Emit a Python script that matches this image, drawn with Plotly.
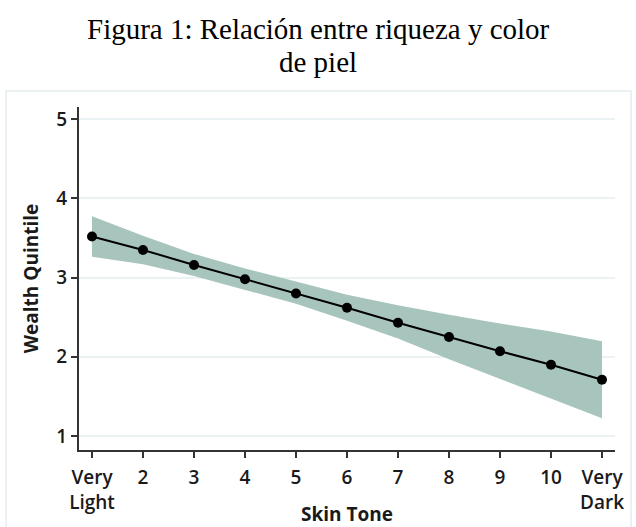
import plotly.graph_objects as go

# Data
skin_tone = [1, 2, 3, 4, 5, 6, 7, 8, 9, 10, 11]
tick_labels = ["Very<br>Light", "2", "3", "4", "5", "6", "7", "8", "9", "10", "Very<br>Dark"]
wealth = [3.52, 3.35, 3.16, 2.98, 2.80, 2.62, 2.43, 2.25, 2.07, 1.90, 1.71]
ci_upper = [3.775, 3.53, 3.30, 3.115, 2.95, 2.785, 2.65, 2.53, 2.42, 2.32, 2.195]
ci_lower = [3.265, 3.17, 3.02, 2.845, 2.67, 2.455, 2.23, 1.97, 1.72, 1.48, 1.225]
y_ticks = [1, 2, 3, 4, 5]

fig = go.Figure()

fig.add_trace(go.Scatter(
    x=skin_tone, y=ci_upper, mode="lines", line=dict(width=0),
    showlegend=False, hoverinfo="skip"))
fig.add_trace(go.Scatter(
    x=skin_tone, y=ci_lower, mode="lines", line=dict(width=0),
    fill="tonexty", fillcolor="rgb(168,197,189)",
    showlegend=False, hoverinfo="skip"))
fig.add_trace(go.Scatter(
    x=skin_tone, y=wealth, mode="lines+markers",
    line=dict(color="black", width=2),
    marker=dict(color="black", size=10),
    showlegend=False))

axis_font = dict(family="Open Sans", size=19, color="#1a1a1a", weight=700)
tick_font = dict(family="Open Sans", size=19, color="#1a1a1a", weight=600)

fig.update_layout(
    width=636, height=527,
    margin=dict(l=79, r=21, t=107, b=77),
    paper_bgcolor="white", plot_bgcolor="white",
    font=dict(family="Open Sans", color="#1a1a1a"),
    xaxis=dict(
        range=[0.745, 11.255], automargin=False,
        tickmode="array", tickvals=skin_tone, ticktext=tick_labels,
        ticks="outside", ticklen=6, tickwidth=1.5, tickcolor="#333",
        showline=True, linecolor="#333", linewidth=2,
        showgrid=False, zeroline=False,
        tickfont=tick_font, ticklabelstandoff=3,
        title=dict(text="Skin Tone", font=axis_font, standoff=0),
    ),
    yaxis=dict(
        range=[0.823, 5.155], automargin=False,
        tickmode="array", tickvals=y_ticks,
        ticks="outside", ticklen=6, tickwidth=1.5, tickcolor="#333",
        showline=True, linecolor="#333", linewidth=2,
        showgrid=True, gridcolor="rgb(234,242,243)", gridwidth=1.5,
        zeroline=False,
        tickfont=tick_font,
        title=dict(text="Wealth Quintile", font=axis_font, standoff=13),
    ),
    shapes=[dict(
        type="rect", xref="paper", yref="paper",
        x0=-0.136, x1=1.03, y0=-0.25, y1=1.0466,
        line=dict(color="rgb(228,238,240)", width=1.5),
        fillcolor="rgba(0,0,0,0)", layer="below")],
    annotations=[
        dict(text="Figura 1: Relación entre riqueza y color", xref="paper", yref="paper",
             x=(318 - 79) / 536, y=(450 - 29) / 343, xanchor="center", yanchor="middle",
             showarrow=False, font=dict(family="Liberation Serif", size=29, color="black")),
        dict(text="de piel", xref="paper", yref="paper",
             x=(318 - 79) / 536, y=(450 - 62) / 343, xanchor="center", yanchor="middle",
             showarrow=False, font=dict(family="Liberation Serif", size=29, color="black")),
    ],
)

fig.write_html("out.html")
